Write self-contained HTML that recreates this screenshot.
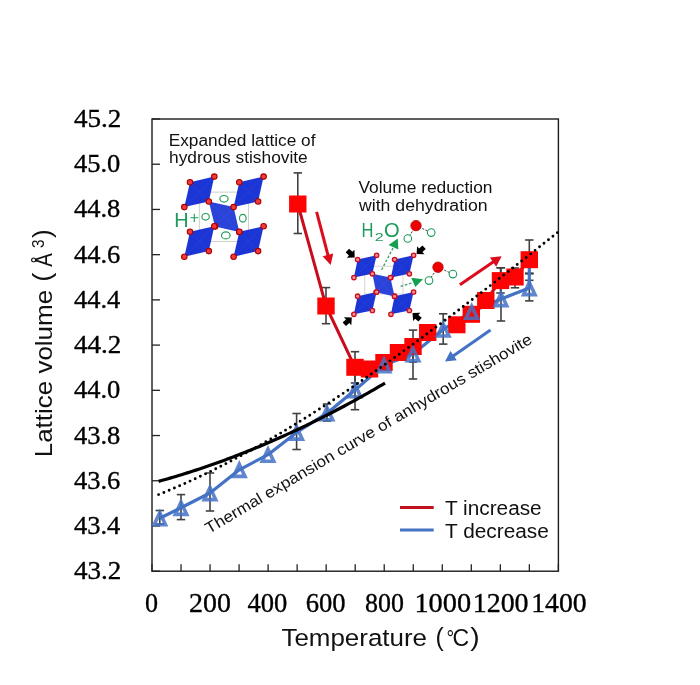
<!DOCTYPE html>
<html><head><meta charset="utf-8"><style>
html,body{margin:0;padding:0;background:#fff;}
svg{display:block;will-change:transform;}
</style></head><body>
<svg width="700" height="685" viewBox="0 0 700 685">
<rect width="700" height="685" fill="#fff"/>
<rect x="152.0" y="119.0" width="406.4" height="452.20000000000005" fill="none" stroke="#1a1a1a" stroke-width="1.4"/>
<line x1="152.0" y1="119.00" x2="160.0" y2="119.00" stroke="#222" stroke-width="1.3"/>
<line x1="152.0" y1="164.22" x2="160.0" y2="164.22" stroke="#222" stroke-width="1.3"/>
<line x1="152.0" y1="209.44" x2="160.0" y2="209.44" stroke="#222" stroke-width="1.3"/>
<line x1="152.0" y1="254.66" x2="160.0" y2="254.66" stroke="#222" stroke-width="1.3"/>
<line x1="152.0" y1="299.88" x2="160.0" y2="299.88" stroke="#222" stroke-width="1.3"/>
<line x1="152.0" y1="345.10" x2="160.0" y2="345.10" stroke="#222" stroke-width="1.3"/>
<line x1="152.0" y1="390.32" x2="160.0" y2="390.32" stroke="#222" stroke-width="1.3"/>
<line x1="152.0" y1="435.54" x2="160.0" y2="435.54" stroke="#222" stroke-width="1.3"/>
<line x1="152.0" y1="480.76" x2="160.0" y2="480.76" stroke="#222" stroke-width="1.3"/>
<line x1="152.0" y1="525.98" x2="160.0" y2="525.98" stroke="#222" stroke-width="1.3"/>
<line x1="152.0" y1="571.20" x2="160.0" y2="571.20" stroke="#222" stroke-width="1.3"/>
<line x1="152.00" y1="571.2" x2="152.00" y2="564.2" stroke="#222" stroke-width="1.3"/>
<line x1="181.03" y1="571.2" x2="181.03" y2="564.2" stroke="#222" stroke-width="1.3"/>
<line x1="210.06" y1="571.2" x2="210.06" y2="564.2" stroke="#222" stroke-width="1.3"/>
<line x1="239.09" y1="571.2" x2="239.09" y2="564.2" stroke="#222" stroke-width="1.3"/>
<line x1="268.11" y1="571.2" x2="268.11" y2="564.2" stroke="#222" stroke-width="1.3"/>
<line x1="297.14" y1="571.2" x2="297.14" y2="564.2" stroke="#222" stroke-width="1.3"/>
<line x1="326.17" y1="571.2" x2="326.17" y2="564.2" stroke="#222" stroke-width="1.3"/>
<line x1="355.20" y1="571.2" x2="355.20" y2="564.2" stroke="#222" stroke-width="1.3"/>
<line x1="384.23" y1="571.2" x2="384.23" y2="564.2" stroke="#222" stroke-width="1.3"/>
<line x1="413.26" y1="571.2" x2="413.26" y2="564.2" stroke="#222" stroke-width="1.3"/>
<line x1="442.29" y1="571.2" x2="442.29" y2="564.2" stroke="#222" stroke-width="1.3"/>
<line x1="471.31" y1="571.2" x2="471.31" y2="564.2" stroke="#222" stroke-width="1.3"/>
<line x1="500.34" y1="571.2" x2="500.34" y2="564.2" stroke="#222" stroke-width="1.3"/>
<line x1="529.37" y1="571.2" x2="529.37" y2="564.2" stroke="#222" stroke-width="1.3"/>
<line x1="558.40" y1="571.2" x2="558.40" y2="564.2" stroke="#222" stroke-width="1.3"/>
<text x="73.90" y="127.00" textLength="47.46" lengthAdjust="spacingAndGlyphs" font-family="'Liberation Serif', serif" font-size="26" fill="#000" stroke="#000" stroke-width="0.35">45.2</text>
<text x="73.90" y="172.22" textLength="46.41" lengthAdjust="spacingAndGlyphs" font-family="'Liberation Serif', serif" font-size="26" fill="#000" stroke="#000" stroke-width="0.35">45.0</text>
<text x="73.90" y="217.44" textLength="46.41" lengthAdjust="spacingAndGlyphs" font-family="'Liberation Serif', serif" font-size="26" fill="#000" stroke="#000" stroke-width="0.35">44.8</text>
<text x="73.90" y="262.66" textLength="46.41" lengthAdjust="spacingAndGlyphs" font-family="'Liberation Serif', serif" font-size="26" fill="#000" stroke="#000" stroke-width="0.35">44.6</text>
<text x="73.90" y="307.88" textLength="46.41" lengthAdjust="spacingAndGlyphs" font-family="'Liberation Serif', serif" font-size="26" fill="#000" stroke="#000" stroke-width="0.35">44.4</text>
<text x="73.90" y="353.10" textLength="47.46" lengthAdjust="spacingAndGlyphs" font-family="'Liberation Serif', serif" font-size="26" fill="#000" stroke="#000" stroke-width="0.35">44.2</text>
<text x="73.90" y="398.32" textLength="46.41" lengthAdjust="spacingAndGlyphs" font-family="'Liberation Serif', serif" font-size="26" fill="#000" stroke="#000" stroke-width="0.35">44.0</text>
<text x="73.90" y="443.54" textLength="46.41" lengthAdjust="spacingAndGlyphs" font-family="'Liberation Serif', serif" font-size="26" fill="#000" stroke="#000" stroke-width="0.35">43.8</text>
<text x="73.90" y="488.76" textLength="46.41" lengthAdjust="spacingAndGlyphs" font-family="'Liberation Serif', serif" font-size="26" fill="#000" stroke="#000" stroke-width="0.35">43.6</text>
<text x="73.90" y="533.98" textLength="46.41" lengthAdjust="spacingAndGlyphs" font-family="'Liberation Serif', serif" font-size="26" fill="#000" stroke="#000" stroke-width="0.35">43.4</text>
<text x="73.90" y="579.20" textLength="47.46" lengthAdjust="spacingAndGlyphs" font-family="'Liberation Serif', serif" font-size="26" fill="#000" stroke="#000" stroke-width="0.35">43.2</text>
<text x="144.95" y="611.60" textLength="13.06" lengthAdjust="spacingAndGlyphs" font-family="'Liberation Serif', serif" font-size="27.5" fill="#000" stroke="#000" stroke-width="0.35">0</text>
<text x="188.98" y="611.60" textLength="41.88" lengthAdjust="spacingAndGlyphs" font-family="'Liberation Serif', serif" font-size="27.5" fill="#000" stroke="#000" stroke-width="0.35">200</text>
<text x="247.53" y="611.60" textLength="39.87" lengthAdjust="spacingAndGlyphs" font-family="'Liberation Serif', serif" font-size="27.5" fill="#000" stroke="#000" stroke-width="0.35">400</text>
<text x="305.73" y="611.60" textLength="39.87" lengthAdjust="spacingAndGlyphs" font-family="'Liberation Serif', serif" font-size="27.5" fill="#000" stroke="#000" stroke-width="0.35">600</text>
<text x="364.96" y="611.60" textLength="38.92" lengthAdjust="spacingAndGlyphs" font-family="'Liberation Serif', serif" font-size="27.5" fill="#000" stroke="#000" stroke-width="0.35">800</text>
<text x="414.41" y="611.60" textLength="56.73" lengthAdjust="spacingAndGlyphs" font-family="'Liberation Serif', serif" font-size="27.5" fill="#000" stroke="#000" stroke-width="0.35">1000</text>
<text x="472.65" y="611.60" textLength="55.97" lengthAdjust="spacingAndGlyphs" font-family="'Liberation Serif', serif" font-size="27.5" fill="#000" stroke="#000" stroke-width="0.35">1200</text>
<text x="531.28" y="611.60" textLength="55.43" lengthAdjust="spacingAndGlyphs" font-family="'Liberation Serif', serif" font-size="27.5" fill="#000" stroke="#000" stroke-width="0.35">1400</text>
<line x1="159.8" y1="510.5" x2="159.8" y2="524" stroke="#404040" stroke-width="1.6"/><line x1="155.60000000000002" y1="510.5" x2="164.0" y2="510.5" stroke="#404040" stroke-width="1.6"/><line x1="155.60000000000002" y1="524" x2="164.0" y2="524" stroke="#404040" stroke-width="1.6"/>
<line x1="181" y1="494.6" x2="181" y2="519.6" stroke="#404040" stroke-width="1.6"/><line x1="176.8" y1="494.6" x2="185.2" y2="494.6" stroke="#404040" stroke-width="1.6"/><line x1="176.8" y1="519.6" x2="185.2" y2="519.6" stroke="#404040" stroke-width="1.6"/>
<line x1="210" y1="473" x2="210" y2="511" stroke="#404040" stroke-width="1.6"/><line x1="205.8" y1="473" x2="214.2" y2="473" stroke="#404040" stroke-width="1.6"/><line x1="205.8" y1="511" x2="214.2" y2="511" stroke="#404040" stroke-width="1.6"/>
<line x1="296.6" y1="413.5" x2="296.6" y2="449.5" stroke="#404040" stroke-width="1.6"/><line x1="292.40000000000003" y1="413.5" x2="300.8" y2="413.5" stroke="#404040" stroke-width="1.6"/><line x1="292.40000000000003" y1="449.5" x2="300.8" y2="449.5" stroke="#404040" stroke-width="1.6"/>
<line x1="327" y1="404" x2="327" y2="421" stroke="#404040" stroke-width="1.6"/><line x1="322.8" y1="404" x2="331.2" y2="404" stroke="#404040" stroke-width="1.6"/><line x1="322.8" y1="421" x2="331.2" y2="421" stroke="#404040" stroke-width="1.6"/>
<line x1="355" y1="370" x2="355" y2="409.7" stroke="#404040" stroke-width="1.6"/><line x1="350.8" y1="370" x2="359.2" y2="370" stroke="#404040" stroke-width="1.6"/><line x1="350.8" y1="409.7" x2="359.2" y2="409.7" stroke="#404040" stroke-width="1.6"/>
<line x1="413" y1="342" x2="413" y2="379" stroke="#404040" stroke-width="1.6"/><line x1="408.8" y1="342" x2="417.2" y2="342" stroke="#404040" stroke-width="1.6"/><line x1="408.8" y1="379" x2="417.2" y2="379" stroke="#404040" stroke-width="1.6"/>
<line x1="443.2" y1="313.8" x2="443.2" y2="344.1" stroke="#404040" stroke-width="1.6"/><line x1="439.0" y1="313.8" x2="447.4" y2="313.8" stroke="#404040" stroke-width="1.6"/><line x1="439.0" y1="344.1" x2="447.4" y2="344.1" stroke="#404040" stroke-width="1.6"/>
<line x1="501" y1="267.8" x2="501" y2="321" stroke="#404040" stroke-width="1.6"/><line x1="496.8" y1="267.8" x2="505.2" y2="267.8" stroke="#404040" stroke-width="1.6"/><line x1="496.8" y1="321" x2="505.2" y2="321" stroke="#404040" stroke-width="1.6"/>
<line x1="529.3" y1="280.3" x2="529.3" y2="300.9" stroke="#404040" stroke-width="1.6"/><line x1="525.0999999999999" y1="280.3" x2="533.5" y2="280.3" stroke="#404040" stroke-width="1.6"/><line x1="525.0999999999999" y1="300.9" x2="533.5" y2="300.9" stroke="#404040" stroke-width="1.6"/>
<line x1="297.8" y1="172.9" x2="297.8" y2="233.5" stroke="#404040" stroke-width="1.6"/><line x1="293.6" y1="172.9" x2="302.0" y2="172.9" stroke="#404040" stroke-width="1.6"/><line x1="293.6" y1="233.5" x2="302.0" y2="233.5" stroke="#404040" stroke-width="1.6"/>
<line x1="326" y1="287.6" x2="326" y2="323.7" stroke="#404040" stroke-width="1.6"/><line x1="321.8" y1="287.6" x2="330.2" y2="287.6" stroke="#404040" stroke-width="1.6"/><line x1="321.8" y1="323.7" x2="330.2" y2="323.7" stroke="#404040" stroke-width="1.6"/>
<line x1="355" y1="351.7" x2="355" y2="383" stroke="#404040" stroke-width="1.6"/><line x1="350.8" y1="351.7" x2="359.2" y2="351.7" stroke="#404040" stroke-width="1.6"/><line x1="350.8" y1="383" x2="359.2" y2="383" stroke="#404040" stroke-width="1.6"/>
<line x1="413" y1="330.1" x2="413" y2="362" stroke="#404040" stroke-width="1.6"/><line x1="408.8" y1="330.1" x2="417.2" y2="330.1" stroke="#404040" stroke-width="1.6"/><line x1="408.8" y1="362" x2="417.2" y2="362" stroke="#404040" stroke-width="1.6"/>
<line x1="500.5" y1="267.8" x2="500.5" y2="293" stroke="#404040" stroke-width="1.6"/><line x1="496.3" y1="267.8" x2="504.7" y2="267.8" stroke="#404040" stroke-width="1.6"/><line x1="496.3" y1="293" x2="504.7" y2="293" stroke="#404040" stroke-width="1.6"/>
<line x1="515" y1="268" x2="515" y2="287.8" stroke="#404040" stroke-width="1.6"/><line x1="510.8" y1="268" x2="519.2" y2="268" stroke="#404040" stroke-width="1.6"/><line x1="510.8" y1="287.8" x2="519.2" y2="287.8" stroke="#404040" stroke-width="1.6"/>
<line x1="529.3" y1="240" x2="529.3" y2="273.5" stroke="#404040" stroke-width="1.6"/><line x1="525.0999999999999" y1="240" x2="533.5" y2="240" stroke="#404040" stroke-width="1.6"/><line x1="525.0999999999999" y1="273.5" x2="533.5" y2="273.5" stroke="#404040" stroke-width="1.6"/>
<line x1="529.3" y1="273.5" x2="529.3" y2="273.5" stroke="#404040" stroke-width="1.6"/><line x1="525.0999999999999" y1="273.5" x2="533.5" y2="273.5" stroke="#404040" stroke-width="1.6"/><line x1="525.0999999999999" y1="273.5" x2="533.5" y2="273.5" stroke="#404040" stroke-width="1.6"/>
<polyline points="529.3,259.7 529.3,288 501,299 471.7,311.7 443.2,329.4 413,354 384,365 355,390.1 327,413.2 296.6,432.5 268,454.7 239.3,469.8 210,493 181,507.8 159.8,518.2" fill="none" stroke="#4472c4" stroke-width="3.2" stroke-linejoin="round"/>
<polyline points="297.8,204 326,306 355,367.3 369.5,369 384,362.5 398.5,352.5 413,346.5 427.7,332.5" fill="none" stroke="#c80c1c" stroke-width="3" stroke-linejoin="round"/>
<polyline points="456.8,324.8 471.3,314.3 485.8,300.5 500.5,280.6 515,277 529.3,259.7" fill="none" stroke="#c80c1c" stroke-width="3" stroke-linejoin="round"/>
<rect x="289.10" y="195.50" width="17.4" height="17" fill="#fc0404"/>
<rect x="317.30" y="297.50" width="17.4" height="17" fill="#fc0404"/>
<rect x="346.30" y="358.80" width="17.4" height="17" fill="#fc0404"/>
<rect x="360.80" y="360.50" width="17.4" height="17" fill="#fc0404"/>
<rect x="375.30" y="354.00" width="17.4" height="17" fill="#fc0404"/>
<rect x="389.80" y="344.00" width="17.4" height="17" fill="#fc0404"/>
<rect x="404.30" y="338.00" width="17.4" height="17" fill="#fc0404"/>
<rect x="419.00" y="324.00" width="17.4" height="17" fill="#fc0404"/>
<rect x="448.10" y="316.30" width="17.4" height="17" fill="#fc0404"/>
<rect x="462.60" y="305.80" width="17.4" height="17" fill="#fc0404"/>
<rect x="477.10" y="292.00" width="17.4" height="17" fill="#fc0404"/>
<rect x="491.80" y="272.10" width="17.4" height="17" fill="#fc0404"/>
<rect x="506.30" y="268.50" width="17.4" height="17" fill="#fc0404"/>
<rect x="520.60" y="251.20" width="17.4" height="17" fill="#fc0404"/>
<polygon points="159.8,512.70 165.50,524.80 154.10,524.80" fill="none" stroke="#4472c4" stroke-opacity="0.85" stroke-width="3.6" stroke-linejoin="miter"/>
<polygon points="181,502.30 186.70,514.40 175.30,514.40" fill="none" stroke="#4472c4" stroke-opacity="0.85" stroke-width="3.6" stroke-linejoin="miter"/>
<polygon points="210,487.50 215.70,499.60 204.30,499.60" fill="none" stroke="#4472c4" stroke-opacity="0.85" stroke-width="3.6" stroke-linejoin="miter"/>
<polygon points="239.3,464.30 245.00,476.40 233.60,476.40" fill="none" stroke="#4472c4" stroke-opacity="0.85" stroke-width="3.6" stroke-linejoin="miter"/>
<polygon points="268,449.20 273.70,461.30 262.30,461.30" fill="none" stroke="#4472c4" stroke-opacity="0.85" stroke-width="3.6" stroke-linejoin="miter"/>
<polygon points="296.6,427.00 302.30,439.10 290.90,439.10" fill="none" stroke="#4472c4" stroke-opacity="0.85" stroke-width="3.6" stroke-linejoin="miter"/>
<polygon points="327,407.70 332.70,419.80 321.30,419.80" fill="none" stroke="#4472c4" stroke-opacity="0.85" stroke-width="3.6" stroke-linejoin="miter"/>
<polygon points="355,384.60 360.70,396.70 349.30,396.70" fill="none" stroke="#4472c4" stroke-opacity="0.85" stroke-width="3.6" stroke-linejoin="miter"/>
<polygon points="384,359.50 389.70,371.60 378.30,371.60" fill="none" stroke="#4472c4" stroke-opacity="0.85" stroke-width="3.6" stroke-linejoin="miter"/>
<polygon points="413,348.50 418.70,360.60 407.30,360.60" fill="none" stroke="#4472c4" stroke-opacity="0.85" stroke-width="3.6" stroke-linejoin="miter"/>
<polygon points="443.2,323.90 448.90,336.00 437.50,336.00" fill="none" stroke="#4472c4" stroke-opacity="0.85" stroke-width="3.6" stroke-linejoin="miter"/>
<polygon points="471.7,306.20 477.40,318.30 466.00,318.30" fill="none" stroke="#4472c4" stroke-opacity="0.85" stroke-width="3.6" stroke-linejoin="miter"/>
<polygon points="501,293.50 506.70,305.60 495.30,305.60" fill="none" stroke="#4472c4" stroke-opacity="0.85" stroke-width="3.6" stroke-linejoin="miter"/>
<polygon points="529.3,282.50 535.00,294.60 523.60,294.60" fill="none" stroke="#4472c4" stroke-opacity="0.85" stroke-width="3.6" stroke-linejoin="miter"/>
<path d="M158.60,481.37 L161.47,480.57 L164.33,479.76 L167.20,478.94 L170.06,478.11 L172.93,477.27 L175.79,476.42 L178.66,475.55 L181.53,474.67 L184.39,473.78 L187.26,472.88 L190.12,471.97 L192.99,471.05 L195.86,470.11 L198.72,469.17 L201.59,468.21 L204.45,467.24 L207.32,466.26 L210.18,465.27 L213.05,464.27 L215.92,463.25 L218.78,462.22 L221.65,461.19 L224.51,460.14 L227.38,459.08 L230.25,458.00 L233.11,456.92 L235.98,455.83 L238.84,454.72 L241.71,453.60 L244.57,452.47 L247.44,451.33 L250.31,450.18 L253.17,449.01 L256.04,447.84 L258.90,446.65 L261.77,445.45 L264.64,444.24 L267.50,443.02 L270.37,441.79 L273.23,440.55 L276.10,439.29 L278.96,438.02 L281.83,436.74 L284.70,435.45 L287.56,434.15 L290.43,432.84 L293.29,431.52 L296.16,430.18 L299.03,428.83 L301.89,427.47 L304.76,426.10 L307.62,424.72 L310.49,423.33 L313.35,421.92 L316.22,420.51 L319.09,419.08 L321.95,417.64 L324.82,416.19 L327.68,414.73 L330.55,413.25 L333.42,411.77 L336.28,410.27 L339.15,408.77 L342.01,407.25 L344.88,405.72 L347.74,404.17 L350.61,402.62 L353.48,401.05 L356.34,399.48 L359.21,397.89 L362.07,396.29 L364.94,394.68 L367.81,393.06 L370.67,391.42 L373.54,389.78 L376.40,388.12 L379.27,386.45 L382.13,384.77 L385.00,383.08" fill="none" stroke="#000" stroke-width="3.2" stroke-linecap="butt"/>
<path d="M158.60,494.61 L160.61,493.80 L162.62,492.99 L164.63,492.16 L166.64,491.33 L168.65,490.49 L170.66,489.65 L172.67,488.79 L174.68,487.93 L176.69,487.06 L178.70,486.19 L180.71,485.30 L182.71,484.41 L184.72,483.52 L186.73,482.61 L188.74,481.70 L190.75,480.78 L192.76,479.86 L194.77,478.93 L196.78,477.99 L198.79,477.04 L200.80,476.09 L202.81,475.13 L204.82,474.16 L206.83,473.19 L208.84,472.21 L210.85,471.22 L212.86,470.23 L214.87,469.23 L216.88,468.22 L218.89,467.21 L220.90,466.19 L222.91,465.16 L224.92,464.13 L226.92,463.09 L228.93,462.05 L230.94,461.00 L232.95,459.94 L234.96,458.88 L236.97,457.81 L238.98,456.73 L240.99,455.65 L243.00,454.56 L245.01,453.47 L247.02,452.36 L249.03,451.26 L251.04,450.15 L253.05,449.03 L255.06,447.90 L257.07,446.77 L259.08,445.64 L261.09,444.50 L263.10,443.35 L265.11,442.20 L267.12,441.04 L269.13,439.87 L271.13,438.70 L273.14,437.53 L275.15,436.35 L277.16,435.16 L279.17,433.97 L281.18,432.77 L283.19,431.57 L285.20,430.36 L287.21,429.15 L289.22,427.93 L291.23,426.70 L293.24,425.48 L295.25,424.24 L297.26,423.00 L299.27,421.76 L301.28,420.51 L303.29,419.25 L305.30,418.00 L307.31,416.73 L309.32,415.46 L311.33,414.19 L313.34,412.91 L315.34,411.62 L317.35,410.34 L319.36,409.04 L321.37,407.75 L323.38,406.44 L325.39,405.14 L327.40,403.82 L329.41,402.51 L331.42,401.19 L333.43,399.86 L335.44,398.53 L337.45,397.20 L339.46,395.86 L341.47,394.52 L343.48,393.17 L345.49,391.82 L347.50,390.46 L349.51,389.10 L351.52,387.74 L353.53,386.37 L355.54,385.00 L357.55,383.62 L359.55,382.24 L361.56,380.86 L363.57,379.47 L365.58,378.08 L367.59,376.68 L369.60,375.28 L371.61,373.88 L373.62,372.47 L375.63,371.06 L377.64,369.65 L379.65,368.23 L381.66,366.81 L383.67,365.38 L385.68,363.95 L387.69,362.52 L389.70,361.08 L391.71,359.64 L393.72,358.20 L395.73,356.75 L397.74,355.30 L399.75,353.85 L401.76,352.40 L403.76,350.94 L405.77,349.47 L407.78,348.01 L409.79,346.54 L411.80,345.07 L413.81,343.59 L415.82,342.12 L417.83,340.64 L419.84,339.15 L421.85,337.67 L423.86,336.18 L425.87,334.68 L427.88,333.19 L429.89,331.69 L431.90,330.19 L433.91,328.69 L435.92,327.18 L437.93,325.67 L439.94,324.16 L441.95,322.65 L443.96,321.13 L445.97,319.61 L447.97,318.09 L449.98,316.57 L451.99,315.04 L454.00,313.52 L456.01,311.99 L458.02,310.45 L460.03,308.92 L462.04,307.38 L464.05,305.84 L466.06,304.30 L468.07,302.76 L470.08,301.21 L472.09,299.67 L474.10,298.12 L476.11,296.57 L478.12,295.01 L480.13,293.46 L482.14,291.90 L484.15,290.34 L486.16,288.78 L488.17,287.22 L490.18,285.66 L492.18,284.09 L494.19,282.53 L496.20,280.96 L498.21,279.39 L500.22,277.82 L502.23,276.24 L504.24,274.67 L506.25,273.09 L508.26,271.52 L510.27,269.94 L512.28,268.36 L514.29,266.78 L516.30,265.20 L518.31,263.61 L520.32,262.03 L522.33,260.44 L524.34,258.86 L526.35,257.27 L528.36,255.68 L530.37,254.09 L532.38,252.50 L534.39,250.91 L536.39,249.32 L538.40,247.73 L540.41,246.13 L542.42,244.54 L544.43,242.94 L546.44,241.35 L548.45,239.75 L550.46,238.15 L552.47,236.56 L554.48,234.96 L556.49,233.36 L558.50,231.76" fill="none" stroke="#000" stroke-width="2.9" stroke-linecap="round" stroke-dasharray="0 5.7"/>
<line x1="316.6" y1="211.9" x2="328.18" y2="255.91" stroke="#dc0c1c" stroke-width="3"/><polygon points="330.6,265.1 322.61,256.35 333.25,253.55" fill="#dc0c1c"/>
<line x1="459.9" y1="284.8" x2="493.86" y2="261.56" stroke="#dc0c1c" stroke-width="3"/><polygon points="501.7,256.2 496.14,266.67 489.93,257.59" fill="#dc0c1c"/>
<line x1="490.5" y1="330" x2="452.80" y2="356.18" stroke="#4472c4" stroke-width="3"/><polygon points="445.0,361.6 450.49,351.09 456.76,360.13" fill="#4472c4"/>
<line x1="400" y1="507.6" x2="433.7" y2="507.6" stroke="#c2101c" stroke-width="3"/>
<line x1="400" y1="530" x2="433.7" y2="530" stroke="#4472c4" stroke-width="3"/>
<text x="445.00" y="515.40" textLength="96.66" lengthAdjust="spacingAndGlyphs" font-family="'Liberation Sans', sans-serif" font-size="20" fill="#111">T increase</text>
<text x="445.00" y="538.20" textLength="103.82" lengthAdjust="spacingAndGlyphs" font-family="'Liberation Sans', sans-serif" font-size="20" fill="#111">T decrease</text>
<text x="168.72" y="145.70" textLength="146.78" lengthAdjust="spacingAndGlyphs" font-family="'Liberation Sans', sans-serif" font-size="16" fill="#111">Expanded lattice of</text>
<text x="169.02" y="162.90" textLength="138.75" lengthAdjust="spacingAndGlyphs" font-family="'Liberation Sans', sans-serif" font-size="16" fill="#111">hydrous stishovite</text>
<text x="358.50" y="192.50" textLength="133.99" lengthAdjust="spacingAndGlyphs" font-family="'Liberation Sans', sans-serif" font-size="16" fill="#111">Volume reduction</text>
<text x="359.00" y="211.00" textLength="128.67" lengthAdjust="spacingAndGlyphs" font-family="'Liberation Sans', sans-serif" font-size="16" fill="#111">with dehydration</text>
<text x="281.44" y="646.00" textLength="145.54" lengthAdjust="spacingAndGlyphs" font-family="'Liberation Sans', sans-serif" font-size="24.5" fill="#111">Temperature</text>
<text x="435.40" y="646.30" textLength="8.24" lengthAdjust="spacingAndGlyphs" font-family="'Liberation Sans', sans-serif" font-size="26" fill="#111">(</text>
<text x="446.43" y="646.00" textLength="7.69" lengthAdjust="spacingAndGlyphs" font-family="'Liberation Sans', sans-serif" font-size="24.5" fill="#111">°</text>
<text x="452.46" y="646.00" textLength="16.64" lengthAdjust="spacingAndGlyphs" font-family="'Liberation Sans', sans-serif" font-size="24.5" fill="#111">C</text>
<text x="470.22" y="646.30" textLength="9.39" lengthAdjust="spacingAndGlyphs" font-family="'Liberation Sans', sans-serif" font-size="26" fill="#111">)</text>
<text x="-457.32" y="51.60" textLength="167.46" lengthAdjust="spacingAndGlyphs" font-family="'Liberation Sans', sans-serif" font-size="24.5" fill="#111" transform="rotate(-90)">Lattice volume</text>
<text x="-281.80" y="51.40" textLength="9.11" lengthAdjust="spacingAndGlyphs" font-family="'Liberation Sans', sans-serif" font-size="26" fill="#111" transform="rotate(-90)">(</text>
<text x="-266.70" y="51.60" textLength="13.59" lengthAdjust="spacingAndGlyphs" font-family="'Liberation Sans', sans-serif" font-size="24.5" fill="#111" transform="rotate(-90)">Å</text>
<text x="-248.12" y="44.20" textLength="8.50" lengthAdjust="spacingAndGlyphs" font-family="'Liberation Sans', sans-serif" font-size="16.5" fill="#111" transform="rotate(-90)">3</text>
<text x="-237.90" y="51.40" textLength="8.67" lengthAdjust="spacingAndGlyphs" font-family="'Liberation Sans', sans-serif" font-size="26" fill="#111" transform="rotate(-90)">)</text>
<text x="-5.00" y="0.00" textLength="376.51" lengthAdjust="spacingAndGlyphs" font-family="'Liberation Sans', sans-serif" font-size="15.6" fill="#111" transform="translate(213.4,531.4) rotate(-30.6)">Thermal expansion curve of anhydrous stishovite</text>
<rect x="199.3" y="192.1" width="49.3" height="49.3" fill="none" stroke="#c4ccc4" stroke-width="0.9"/><polygon points="190.0,182.2 214.3,176.6 208.8,201.5 184.3,207.1" fill="#1c36d6"/><path d="M190.0,182.2 L208.8,201.5 M214.3,176.6 L184.3,207.1" stroke="#6a86ff" stroke-opacity="0.12" stroke-width="0.9"/><polygon points="239.3,182.2 263.6,176.6 258.1,201.5 233.6,207.1" fill="#1c36d6"/><path d="M239.3,182.2 L258.1,201.5 M263.6,176.6 L233.6,207.1" stroke="#6a86ff" stroke-opacity="0.12" stroke-width="0.9"/><polygon points="190.0,231.8 214.3,226.2 208.8,251.1 184.3,256.7" fill="#1c36d6"/><path d="M190.0,231.8 L208.8,251.1 M214.3,226.2 L184.3,256.7" stroke="#6a86ff" stroke-opacity="0.12" stroke-width="0.9"/><polygon points="239.3,231.8 263.6,226.2 258.1,251.1 233.6,256.7" fill="#1c36d6"/><path d="M239.3,231.8 L258.1,251.1 M263.6,226.2 L233.6,256.7" stroke="#6a86ff" stroke-opacity="0.12" stroke-width="0.9"/><polygon points="208.8,201.5 233.6,207.1 239.3,232.1 215.0,226.4" fill="#2a44da"/><path d="M208.8,201.5 L239.3,232.1 M233.6,207.1 L215.0,226.4" stroke="#6a86ff" stroke-opacity="0.12" stroke-width="0.9"/><circle cx="208.8" cy="251.1" r="2.75" fill="#f23a3a" stroke="#a80000" stroke-width="1.1"/><circle cx="215.0" cy="226.4" r="2.75" fill="#f23a3a" stroke="#a80000" stroke-width="1.1"/><circle cx="239.3" cy="232.1" r="2.75" fill="#f23a3a" stroke="#a80000" stroke-width="1.1"/><circle cx="263.6" cy="176.6" r="2.75" fill="#f23a3a" stroke="#a80000" stroke-width="1.1"/><circle cx="258.1" cy="201.5" r="2.75" fill="#f23a3a" stroke="#a80000" stroke-width="1.1"/><circle cx="214.3" cy="176.6" r="2.75" fill="#f23a3a" stroke="#a80000" stroke-width="1.1"/><circle cx="208.8" cy="201.5" r="2.75" fill="#f23a3a" stroke="#a80000" stroke-width="1.1"/><circle cx="214.3" cy="226.2" r="2.75" fill="#f23a3a" stroke="#a80000" stroke-width="1.1"/><circle cx="233.6" cy="256.7" r="2.75" fill="#f23a3a" stroke="#a80000" stroke-width="1.1"/><circle cx="184.3" cy="256.7" r="2.75" fill="#f23a3a" stroke="#a80000" stroke-width="1.1"/><circle cx="239.3" cy="182.2" r="2.75" fill="#f23a3a" stroke="#a80000" stroke-width="1.1"/><circle cx="239.3" cy="231.8" r="2.75" fill="#f23a3a" stroke="#a80000" stroke-width="1.1"/><circle cx="233.6" cy="207.1" r="2.75" fill="#f23a3a" stroke="#a80000" stroke-width="1.1"/><circle cx="263.6" cy="226.2" r="2.75" fill="#f23a3a" stroke="#a80000" stroke-width="1.1"/><circle cx="190.0" cy="231.8" r="2.75" fill="#f23a3a" stroke="#a80000" stroke-width="1.1"/><circle cx="190.0" cy="182.2" r="2.75" fill="#f23a3a" stroke="#a80000" stroke-width="1.1"/><circle cx="184.3" cy="207.1" r="2.75" fill="#f23a3a" stroke="#a80000" stroke-width="1.1"/><circle cx="258.1" cy="251.1" r="2.75" fill="#f23a3a" stroke="#a80000" stroke-width="1.1"/><ellipse cx="224" cy="198.8" rx="4.1" ry="3.3" fill="none" stroke="#1e9a5a" stroke-width="1.15"/><ellipse cx="205.6" cy="216.8" rx="3.7" ry="3.3" fill="none" stroke="#1e9a5a" stroke-width="1.15"/><ellipse cx="242.8" cy="218.2" rx="3.3" ry="3.9" fill="none" stroke="#1e9a5a" stroke-width="1.15"/><ellipse cx="225.8" cy="235.4" rx="4.3" ry="3.5" fill="none" stroke="#1e9a5a" stroke-width="1.15"/><text x="174.16" y="227.30" textLength="14.35" lengthAdjust="spacingAndGlyphs" font-family="'Liberation Sans', sans-serif" font-size="19.5" fill="#1e9a5a">H</text><path d="M190.4,217.8 H198.2 M194.3,213.7 V221.9" stroke="#1e9a5a" stroke-width="1.1" fill="none"/>
<rect x="364.8" y="266.2" width="38.2" height="27.8" fill="none" stroke="#d4cccc" stroke-width="0.9"/><polygon points="357.6,259.5 376.6,255.3 372.4,273.8 353.9,277.6" fill="#1c36d6"/><path d="M357.6,259.5 L372.4,273.8 M376.6,255.3 L353.9,277.6" stroke="#6a86ff" stroke-opacity="0.12" stroke-width="0.9"/><polygon points="394.6,259.5 413.6,255.3 409.4,273.8 390.9,277.6" fill="#1c36d6"/><path d="M394.6,259.5 L409.4,273.8 M413.6,255.3 L390.9,277.6" stroke="#6a86ff" stroke-opacity="0.12" stroke-width="0.9"/><polygon points="357.6,296.2 376.6,292.0 372.4,310.5 353.9,314.3" fill="#1c36d6"/><path d="M357.6,296.2 L372.4,310.5 M376.6,292.0 L353.9,314.3" stroke="#6a86ff" stroke-opacity="0.12" stroke-width="0.9"/><polygon points="394.6,296.2 413.6,292.0 409.4,310.5 390.9,314.3" fill="#1c36d6"/><path d="M394.6,296.2 L409.4,310.5 M413.6,292.0 L390.9,314.3" stroke="#6a86ff" stroke-opacity="0.12" stroke-width="0.9"/><polygon points="372.4,273.8 390.4,277.6 394.6,296.4 376.1,292.2" fill="#2a44da"/><path d="M372.4,273.8 L394.6,296.4 M390.4,277.6 L376.1,292.2" stroke="#6a86ff" stroke-opacity="0.12" stroke-width="0.9"/><circle cx="409.4" cy="310.5" r="2.2" fill="#f39090" stroke="#c81020" stroke-width="1.3"/><circle cx="353.9" cy="277.6" r="2.2" fill="#f39090" stroke="#c81020" stroke-width="1.3"/><circle cx="390.9" cy="277.6" r="2.2" fill="#f39090" stroke="#c81020" stroke-width="1.3"/><circle cx="357.6" cy="259.5" r="2.2" fill="#f39090" stroke="#c81020" stroke-width="1.3"/><circle cx="394.6" cy="296.4" r="2.2" fill="#f39090" stroke="#c81020" stroke-width="1.3"/><circle cx="376.6" cy="255.3" r="2.2" fill="#f39090" stroke="#c81020" stroke-width="1.3"/><circle cx="353.9" cy="314.3" r="2.2" fill="#f39090" stroke="#c81020" stroke-width="1.3"/><circle cx="394.6" cy="259.5" r="2.2" fill="#f39090" stroke="#c81020" stroke-width="1.3"/><circle cx="390.4" cy="277.6" r="2.2" fill="#f39090" stroke="#c81020" stroke-width="1.3"/><circle cx="376.1" cy="292.2" r="2.2" fill="#f39090" stroke="#c81020" stroke-width="1.3"/><circle cx="390.9" cy="314.3" r="2.2" fill="#f39090" stroke="#c81020" stroke-width="1.3"/><circle cx="357.6" cy="296.2" r="2.2" fill="#f39090" stroke="#c81020" stroke-width="1.3"/><circle cx="413.6" cy="255.3" r="2.2" fill="#f39090" stroke="#c81020" stroke-width="1.3"/><circle cx="372.4" cy="273.8" r="2.2" fill="#f39090" stroke="#c81020" stroke-width="1.3"/><circle cx="409.4" cy="273.8" r="2.2" fill="#f39090" stroke="#c81020" stroke-width="1.3"/><circle cx="376.6" cy="292.0" r="2.2" fill="#f39090" stroke="#c81020" stroke-width="1.3"/><circle cx="394.6" cy="296.2" r="2.2" fill="#f39090" stroke="#c81020" stroke-width="1.3"/><circle cx="413.6" cy="292.0" r="2.2" fill="#f39090" stroke="#c81020" stroke-width="1.3"/><circle cx="372.4" cy="310.5" r="2.2" fill="#f39090" stroke="#c81020" stroke-width="1.3"/>
<polygon points="354.70,257.50 346.85,257.63 348.92,255.46 345.66,252.36 349.10,248.73 352.36,251.83 354.43,249.66" fill="#000"/>
<polygon points="416.60,254.00 417.08,246.17 419.09,248.40 422.43,245.39 425.78,249.10 422.43,252.11 424.44,254.34" fill="#000"/>
<polygon points="351.80,317.50 351.32,325.33 349.31,323.10 345.97,326.11 342.62,322.40 345.97,319.39 343.96,317.16" fill="#000"/>
<polygon points="412.50,313.10 420.33,312.63 418.37,314.89 421.76,317.84 418.48,321.62 415.08,318.66 413.11,320.93" fill="#000"/>
<line x1="381.6" y1="269.8" x2="393.5" y2="247.2" stroke="#3a9a6a" stroke-width="1.3" stroke-dasharray="2.6 1.8"/>
<polygon points="397.8,238.5 388.6,245.0 398.3,249.6" fill="#14a050"/>
<line x1="400.6" y1="286.4" x2="413.4" y2="282.4" stroke="#3a9a6a" stroke-width="1.3" stroke-dasharray="2.6 1.8"/>
<polygon points="423.0,279.3 411.3,277.7 415.3,287.1" fill="#14a050"/>
<line x1="416.0" y1="225.6" x2="407.8" y2="238.5" stroke="#333" stroke-width="1" stroke-dasharray="2 1.5"/><line x1="416.0" y1="225.6" x2="431.2" y2="232.6" stroke="#333" stroke-width="1" stroke-dasharray="2 1.5"/><circle cx="416.0" cy="225.6" r="5.2" fill="#ee0000" stroke="#c00000" stroke-width="0.8"/><circle cx="407.8" cy="238.5" r="3.8" fill="#fff" stroke="#1e9a5a" stroke-width="1.1"/><circle cx="431.2" cy="232.6" r="3.8" fill="#fff" stroke="#1e9a5a" stroke-width="1.1"/>
<line x1="438" y1="267.2" x2="429" y2="280.6" stroke="#333" stroke-width="1" stroke-dasharray="2 1.5"/><line x1="438" y1="267.2" x2="452.9" y2="274.1" stroke="#333" stroke-width="1" stroke-dasharray="2 1.5"/><circle cx="438" cy="267.2" r="5.2" fill="#ee0000" stroke="#c00000" stroke-width="0.8"/><circle cx="429" cy="280.6" r="3.8" fill="#fff" stroke="#1e9a5a" stroke-width="1.1"/><circle cx="452.9" cy="274.1" r="3.8" fill="#fff" stroke="#1e9a5a" stroke-width="1.1"/>
<text x="361.61" y="237.30" textLength="11.92" lengthAdjust="spacingAndGlyphs" font-family="'Liberation Sans', sans-serif" font-size="19.5" fill="#1e9a5a">H</text>
<text x="374.80" y="241.40" textLength="8.97" lengthAdjust="spacingAndGlyphs" font-family="'Liberation Sans', sans-serif" font-size="11.5" fill="#1e9a5a">2</text>
<text x="383.97" y="237.30" textLength="15.64" lengthAdjust="spacingAndGlyphs" font-family="'Liberation Sans', sans-serif" font-size="19.5" fill="#1e9a5a">O</text>
</svg>
</body></html>
